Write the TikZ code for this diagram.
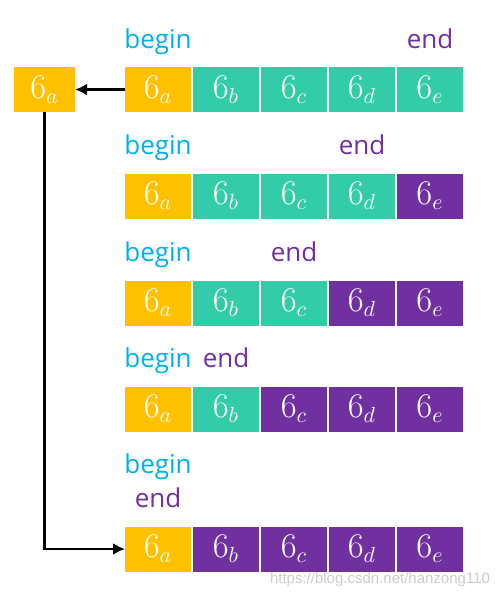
\documentclass[tikz,border=0pt]{standalone}
\usepackage{fontspec}
\setsansfont{Open Sans}
\newfontfamily\urlfont{Liberation Sans}
\usetikzlibrary{arrows.meta,positioning}
\usepackage{amsmath}

\definecolor{cellorange}{HTML}{FFC000}
\definecolor{cellteal}{HTML}{33CCA8}
\definecolor{cellpurple}{HTML}{7030A0}
\definecolor{lblblue}{HTML}{00B0F0}

\tikzset{
  cell/.style={minimum width=33pt, minimum height=22.5pt, inner sep=0pt,
    outer sep=0pt, text=white, font=\fontsize{16}{18}\selectfont},
  lbl/.style={inner sep=0pt, outer sep=0pt, text height=9.5pt, text depth=3pt,
    font=\sffamily\fontsize{13}{15}\selectfont},
  beginlbl/.style={lbl, text=lblblue},
  endlbl/.style={lbl, text=cellpurple},
}

\begin{document}
\begin{tikzpicture}[x=0.5pt,y=-0.5pt]
      \useasboundingbox (0,0) rectangle (504,601);
      % Saved value on the left
      \node[cell, fill=cellorange, minimum width=30.5pt] (key) at (44.5,89.5) {$6_a$};
      % Row 1
      \node[cell, fill=cellorange] (a1) at (158,89.5) {$6_a$};
      \node[cell, fill=cellteal, right=1pt of a1] (b1) {$6_b$};
      \node[cell, fill=cellteal, right=1pt of b1] (c1) {$6_c$};
      \node[cell, fill=cellteal, right=1pt of c1] (d1) {$6_d$};
      \node[cell, fill=cellteal, right=1pt of d1] (e1) {$6_e$};
      \node[beginlbl, above=6.5pt of a1] (begin1) {begin};
      \node[endlbl, above=6.5pt of e1] (end1) {end};
      % Row 2
      \node[cell, fill=cellorange] (a2) at (158,196) {$6_a$};
      \node[cell, fill=cellteal, right=1pt of a2] (b2) {$6_b$};
      \node[cell, fill=cellteal, right=1pt of b2] (c2) {$6_c$};
      \node[cell, fill=cellteal, right=1pt of c2] (d2) {$6_d$};
      \node[cell, fill=cellpurple, right=1pt of d2] (e2) {$6_e$};
      \node[beginlbl, above=6.5pt of a2] (begin2) {begin};
      \node[endlbl, above=6.5pt of d2] (end2) {end};
      % Row 3
      \node[cell, fill=cellorange] (a3) at (158,303) {$6_a$};
      \node[cell, fill=cellteal, right=1pt of a3] (b3) {$6_b$};
      \node[cell, fill=cellteal, right=1pt of b3] (c3) {$6_c$};
      \node[cell, fill=cellpurple, right=1pt of c3] (d3) {$6_d$};
      \node[cell, fill=cellpurple, right=1pt of d3] (e3) {$6_e$};
      \node[beginlbl, above=6.5pt of a3] (begin3) {begin};
      \node[endlbl, above=6.5pt of c3] (end3) {end};
      % Row 4
      \node[cell, fill=cellorange] (a4) at (158,409) {$6_a$};
      \node[cell, fill=cellteal, right=1pt of a4] (b4) {$6_b$};
      \node[cell, fill=cellpurple, right=1pt of b4] (c4) {$6_c$};
      \node[cell, fill=cellpurple, right=1pt of c4] (d4) {$6_d$};
      \node[cell, fill=cellpurple, right=1pt of d4] (e4) {$6_e$};
      \node[beginlbl, above=6.5pt of a4] (begin4) {begin};
      \node[endlbl, above=6.5pt of b4] (end4) {end};
      % Row 5
      \node[cell, fill=cellorange] (a5) at (158,549) {$6_a$};
      \node[cell, fill=cellpurple, right=1pt of a5] (b5) {$6_b$};
      \node[cell, fill=cellpurple, right=1pt of b5] (c5) {$6_c$};
      \node[cell, fill=cellpurple, right=1pt of c5] (d5) {$6_d$};
      \node[cell, fill=cellpurple, right=1pt of d5] (e5) {$6_e$};
      \node[endlbl, above=6.5pt of a5] (end5) {end};
      \node[beginlbl, above=4.5pt of end5] (begin5) {begin};
      % Arrows
      \draw[-{Latex[length=6pt,width=6pt]}, line width=1.2pt] (a1.west) -- (key.east);
      \draw[-{Latex[length=6pt,width=6pt]}, line width=1.2pt] (key.south) |- (a5.west);
      % Source
      \node[text=gray!40, font=\urlfont\fontsize{7.5}{9}\selectfont, anchor=east] (src) at (497,580) {https://blog.csdn.net/hanzong110};
    \end{tikzpicture}
\end{document}
